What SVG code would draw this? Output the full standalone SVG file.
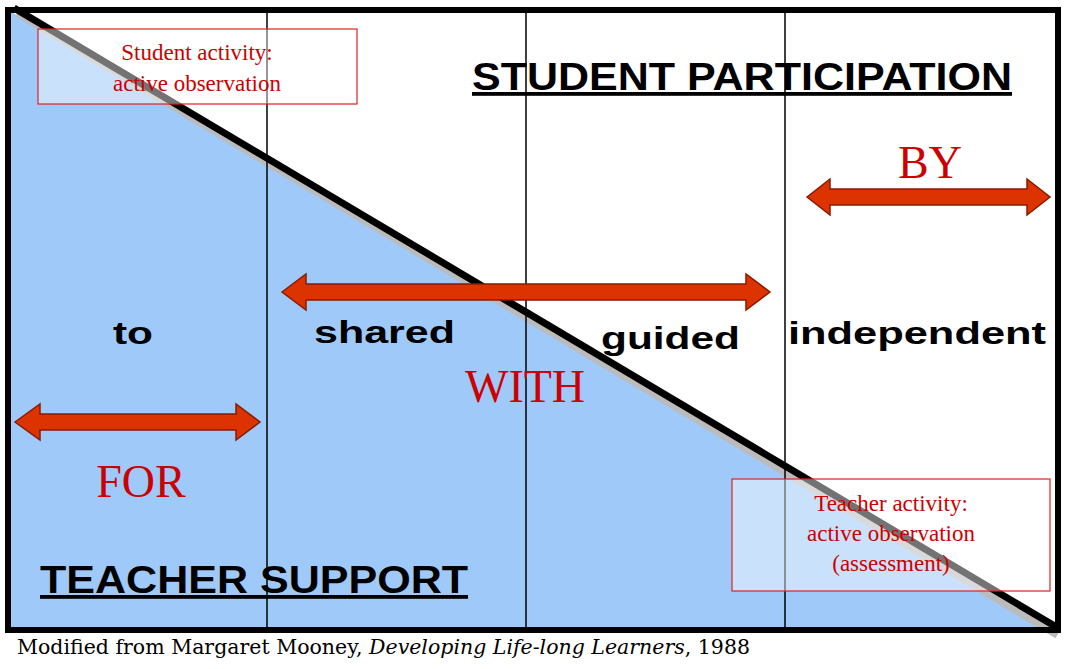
<svg xmlns="http://www.w3.org/2000/svg" width="1066" height="669" viewBox="0 0 1066 669">
<defs><style>
.lbl{font-family:"Liberation Sans",Arial,sans-serif;font-weight:bold;fill:#000;text-anchor:start}
.red{font-family:"Liberation Serif",serif;fill:#cc0000;text-anchor:middle}
.arr{fill:#dd3300;stroke:#8a1a00;stroke-width:1.5}
.box{fill:#fff;fill-opacity:0.45;stroke:#dd2222;stroke-width:1.2}
.vl{stroke:#000;stroke-width:1.5}
</style></defs>
<rect width="1066" height="669" fill="#fff"/>
<g id="background">
<polygon points="8,10 8,630 1058,630" fill="#9fc9f8"/>
<line x1="18" y1="12" x2="1058" y2="634" stroke="#bbb" stroke-width="10"/>
<line x1="14" y1="8" x2="1058" y2="628" stroke="#000" stroke-width="7"/>
<line class="vl" x1="267" y1="10" x2="267" y2="630"/>
<line class="vl" x1="526" y1="10" x2="526" y2="630"/>
<line class="vl" x1="785" y1="10" x2="785" y2="630"/>
<rect x="8" y="10" width="1050" height="620" fill="none" stroke="#000" stroke-width="6"/>
</g>
<g id="connectors">
<polygon class="arr" points="15,422 40,404 40,414 236,414 236,404 260,422 236,440 236,430 40,430 40,440"/>
<polygon class="arr" points="282,292 306,274 306,284 746,284 746,274 770,292 746,310 746,300 306,300 306,310"/>
<polygon class="arr" points="807,197 830,179 830,189 1027,189 1027,179 1050,197 1027,215 1027,205 830,205 830,215"/>
</g>
<g id="labels">
<text class="lbl" x="113" y="344" font-size="31" textLength="40" lengthAdjust="spacingAndGlyphs">to</text>
<text class="lbl" x="314" y="343" font-size="31" textLength="141" lengthAdjust="spacingAndGlyphs">shared</text>
<text class="lbl" x="601" y="349" font-size="31" textLength="139" lengthAdjust="spacingAndGlyphs">guided</text>
<text class="lbl" x="788" y="344" font-size="31" textLength="258" lengthAdjust="spacingAndGlyphs">independent</text>
<text class="red" x="525" y="402" font-size="46">WITH</text>
<text class="red" x="141" y="497" font-size="46">FOR</text>
<text class="red" x="930" y="178" font-size="46">BY</text>
<text class="lbl" x="472" y="90" font-size="38" textLength="540" lengthAdjust="spacingAndGlyphs" text-decoration="underline">STUDENT PARTICIPATION</text>
<text class="lbl" x="40" y="593" font-size="38" textLength="428" lengthAdjust="spacingAndGlyphs" text-decoration="underline">TEACHER SUPPORT</text>
</g>
<g id="student-box">
<rect class="box" x="38" y="29" width="319" height="75"/>
<text class="red" x="197" y="60" font-size="23">Student activity:</text>
<text class="red" x="197" y="91" font-size="23">active observation</text>
</g>
<g id="teacher-box">
<rect class="box" x="732" y="479" width="318" height="112"/>
<text class="red" x="891" y="511" font-size="23">Teacher activity:</text>
<text class="red" x="891" y="541" font-size="23">active observation</text>
<text class="red" x="891" y="571" font-size="23">(assessment)</text>
</g>
<text x="17" y="654" font-family="'DejaVu Serif','Liberation Serif',serif" font-size="20.5" fill="#000">Modified from Margaret Mooney, <tspan font-style="italic">Developing Life-long Learners</tspan>, 1988</text>
</svg>
